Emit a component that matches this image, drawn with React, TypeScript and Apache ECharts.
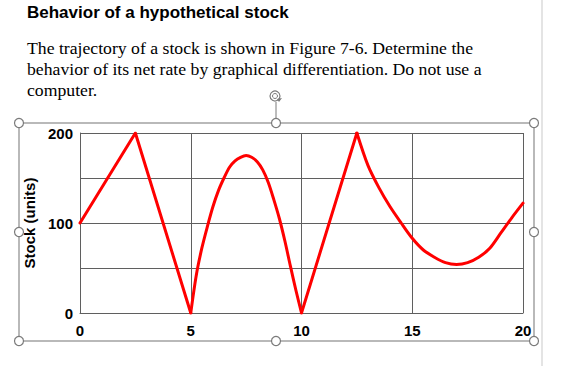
import React, { useEffect, useRef } from "react";
import * as echarts from "echarts";

const titleText = "Behavior of a hypothetical stock";
const bodyLines = [
  "The trajectory of a stock is shown in Figure 7-6. Determine the",
  "behavior of its net rate by graphical differentiation. Do not use a",
  "computer.",
];
const axisNameY = "Stock (units)";

// piecewise-linear parts
const linearPart1: [number, number][] = [
  [0, 100],
  [2.5, 200],
  [5, 0],
];
const linearPart2: [number, number][] = [
  [10, 0],
  [12.5, 200],
];
// curved parts
const curvePart1: [number, number][] = [
  [5, 0],
  [5.25, 42],
  [5.5, 72],
  [5.75, 96],
  [6, 118],
  [6.25, 136],
  [6.5, 150],
  [6.75, 162],
  [7, 169],
  [7.25, 173],
  [7.5, 175],
  [7.75, 173],
  [8, 168],
  [8.25, 159],
  [8.5, 145],
  [8.75, 126],
  [9, 105],
  [9.25, 80],
  [9.5, 52],
  [9.75, 25],
  [10, 0],
];
const curvePart2: [number, number][] = [
  [12.5, 200],
  [13, 164],
  [13.5, 139],
  [14, 118],
  [14.5, 100],
  [15, 83],
  [15.5, 70],
  [16, 62],
  [16.5, 56],
  [17, 54],
  [17.5, 56],
  [18, 62],
  [18.5, 72],
  [19, 89],
  [19.5, 106],
  [20, 122],
];
const yLabelValues = [0, 100, 200];

export default function App() {
  const ref = useRef<HTMLDivElement>(null);
  useEffect(() => {
    document.body.style.margin = "0";
    const chart = echarts.init(ref.current!, null, { renderer: "svg" });
    const gridColor = "#5f5f5f";
    const frameColor = "#a3a3a3";
    const handle = (x: number, y: number) => ({
      type: "circle",
      shape: { cx: x, cy: y, r: 4.5 },
      style: { fill: "#fff", stroke: "#7a7a7a", lineWidth: 1.2 },
      z: 10,
    });
    const redLine = {
      type: "line",
      showSymbol: false,
      lineStyle: { color: "#ff0000", width: 3, join: "round", cap: "round" },
      itemStyle: { color: "#ff0000" },
      silent: true,
    };
    const labelFont = {
      color: "#000",
      fontWeight: "bold",
      fontSize: 15,
      fontFamily: "Liberation Sans",
    };
    chart.setOption({
      animation: false,
      grid: { left: 80, top: 133, width: 443, height: 180, containLabel: false },
      xAxis: {
        type: "value",
        min: 0,
        max: 20,
        interval: 5,
        axisLine: { show: true, lineStyle: { color: gridColor, width: 1 } },
        axisTick: { show: false },
        splitLine: { show: true, lineStyle: { color: gridColor, width: 1 } },
        axisLabel: { ...labelFont, margin: 10 },
      },
      yAxis: {
        type: "value",
        min: 0,
        max: 200,
        interval: 50,
        name: axisNameY,
        nameLocation: "middle",
        nameRotate: 90,
        nameGap: 42,
        nameTextStyle: { ...labelFont },
        axisLine: { show: true, lineStyle: { color: gridColor, width: 1 } },
        axisTick: { show: false },
        splitLine: { show: true, lineStyle: { color: gridColor, width: 1 } },
        axisLabel: {
          ...labelFont,
          margin: 7,
          formatter: (v: number) => (yLabelValues.includes(v) ? String(v) : ""),
        },
      },
      series: [
        { ...redLine, data: linearPart1 },
        { ...redLine, data: linearPart2 },
        { ...redLine, data: curvePart1, smooth: 0.3 },
        { ...redLine, data: curvePart2, smooth: 0.3 },
      ],
      graphic: [
        {
          type: "line",
          shape: { x1: 542, y1: 0, x2: 542, y2: 366 },
          style: { stroke: "#e4e4e4", lineWidth: 2 },
        },
        {
          type: "text",
          x: 27,
          y: 12.5,
          style: {
            text: titleText,
            fill: "#000",
            font: 'bold 17px "Liberation Sans"',
            align: "left",
            verticalAlign: "middle",
          },
        },
        ...bodyLines.map((t, i) => ({
          type: "text",
          x: 27,
          y: 48 + i * 21,
          style: {
            text: t,
            fill: "#000",
            font: '17.7px "Liberation Serif"',
            align: "left",
            verticalAlign: "middle",
          },
        })),
        {
          type: "rect",
          shape: { x: 19, y: 123, width: 515, height: 218 },
          style: { fill: "none", stroke: frameColor, lineWidth: 1.5 },
        },
        {
          type: "line",
          shape: { x1: 276, y1: 102, x2: 276, y2: 123 },
          style: { stroke: "#7a7a7a", lineWidth: 1 },
        },
        {
          type: "circle",
          shape: { cx: 275, cy: 96, r: 5 },
          style: { fill: "#fff", stroke: "#7a7a7a", lineWidth: 1.2 },
          z: 10,
        },
        {
          type: "circle",
          shape: { cx: 275, cy: 96, r: 2.5 },
          style: { fill: "none", stroke: "#7a7a7a", lineWidth: 1 },
          z: 11,
        },
        {
          type: "polygon",
          shape: { points: [[277, 99], [282, 98], [279, 102]] },
          style: { fill: "#7a7a7a" },
          z: 11,
        },
        handle(19, 123),
        handle(276, 123),
        handle(534, 123),
        handle(19, 232),
        handle(534, 232),
        handle(19, 341),
        handle(276, 341),
        handle(534, 341),
      ],
    });
    return () => chart.dispose();
  }, []);
  return <div ref={ref} style={{ width: 561, height: 366 }} />;
}
